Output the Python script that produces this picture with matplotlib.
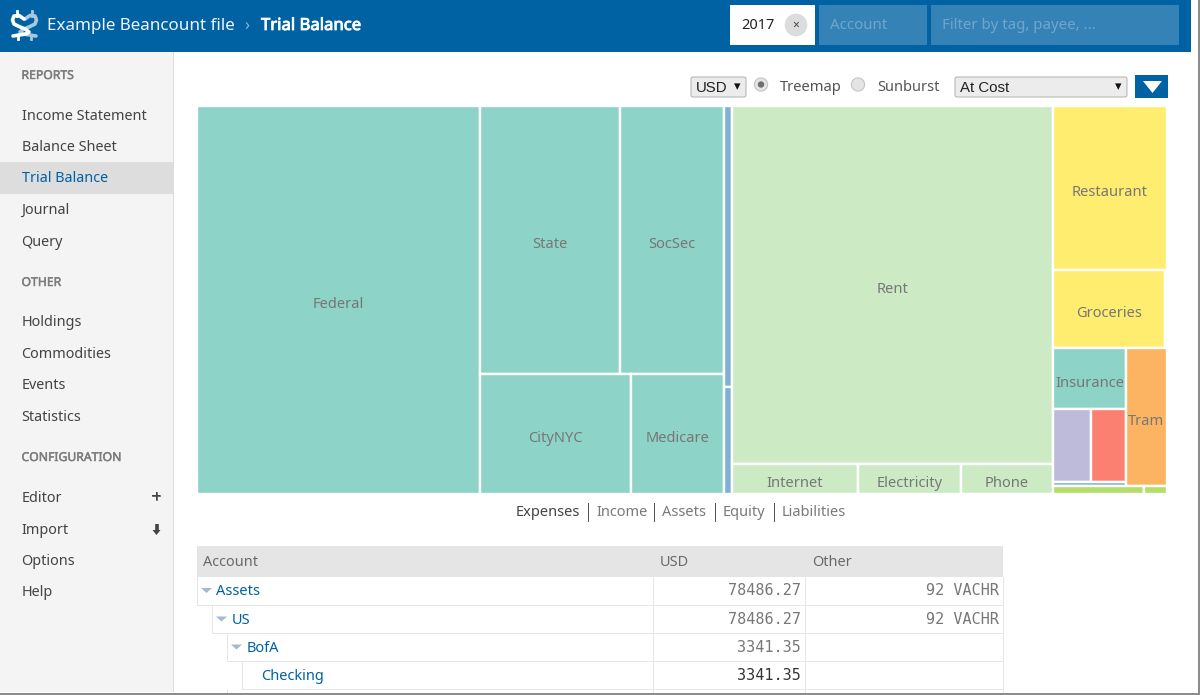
import matplotlib
matplotlib.use("Agg")
import matplotlib.pyplot as plt
import matplotlib.patheffects as pe
from matplotlib.patches import Rectangle, Polygon, Circle, FancyBboxPatch

W, H = 1200, 695
UI_FONT = ["Noto Sans", "DejaVu Sans"]
MONO_FONT = "DejaVu Sans Mono"
FORM_FONT = "Liberation Sans"

# treemap values, USD
tax_main_labels = ["Federal"]
tax_main_values = [27429]
tax_top_labels = ["State", "SocSec"]
tax_top_values = [9362, 6922]
tax_low_labels = ["CityNYC", "Medicare"]
tax_low_values = [4511, 2763]
tax_small_values = [560, 214]
home_labels = ["Rent"]
home_values = [28649]
home_low_labels = ["Internet", "Electricity", "Phone"]
home_low_values = [945, 772, 690]
food_labels = ["Restaurant", "Groceries"]
food_values = [4660, 2184]
grocery_rest_value = 39
tram_value = 1414
insurance_value = 1104
misc_values = [689, 634]
thin_value = 82
bottom_values = [183, 45]

# table values
table_header = ["Account", "USD", "Other"]
accounts = ["Assets", "US", "BofA", "Checking"]
account_depth = [0, 1, 2, 3]
account_usd = ["78486.27", "78486.27", "3341.35", "3341.35"]
account_other = ["92 VACHR", "92 VACHR", "", ""]

nav_reports = ["Income Statement", "Balance Sheet", "Trial Balance", "Journal", "Query"]
nav_other = ["Holdings", "Commodities", "Events", "Statistics"]
nav_config = ["Editor", "Import", "Options", "Help"]
chart_tabs = ["Expenses", "Income", "Assets", "Equity", "Liabilities"]

TEAL = "#8dd3c7"
PALE = "#ccebc5"
YELLOW = "#ffed6f"
ORANGE = "#fdb462"
PURPLE = "#bebada"
RED = "#fb8072"
BLUE = "#80b1d3"
LIME = "#b3de69"
WHITE = "#ffffff"


def leaf(label, value, color):
    return {"label": label, "value": value, "color": color}


def group(direction, *children):
    return {"dir": direction, "children": list(children),
            "value": sum(c["value"] for c in children)}


tree = group(
    "h",
    leaf(tax_main_labels[0], tax_main_values[0], TEAL),
    group("v",
          group("h", leaf(tax_top_labels[0], tax_top_values[0], TEAL),
                leaf(tax_top_labels[1], tax_top_values[1], TEAL)),
          group("h", leaf(tax_low_labels[0], tax_low_values[0], TEAL),
                leaf(tax_low_labels[1], tax_low_values[1], TEAL))),
    group("v", leaf("", tax_small_values[0], BLUE), leaf("", tax_small_values[1], BLUE)),
    group("v",
          leaf(home_labels[0], home_values[0], PALE),
          group("h", *[leaf(l, v, PALE) for l, v in zip(home_low_labels, home_low_values)])),
    group("v",
          leaf(food_labels[0], food_values[0], YELLOW),
          group("h", leaf(food_labels[1], food_values[1], YELLOW),
                leaf("", grocery_rest_value, WHITE)),
          group("h",
                group("v",
                      leaf("Insurance", insurance_value, TEAL),
                      group("h", leaf("", misc_values[0], PURPLE), leaf("", misc_values[1], RED)),
                      leaf("", thin_value, BLUE)),
                leaf("Tram", tram_value, ORANGE)),
          group("h", leaf("", bottom_values[0], LIME), leaf("", bottom_values[1], LIME))),
)


def layout(node, x0, y0, x1, y1, out):
    if "children" not in node:
        out.append((node, x0, y0, x1, y1))
        return
    pos = x0 if node["dir"] == "h" else y0
    span = (x1 - x0) if node["dir"] == "h" else (y1 - y0)
    for c in node["children"]:
        step = span * c["value"] / node["value"]
        if node["dir"] == "h":
            layout(c, pos, y0, pos + step, y1, out)
        else:
            layout(c, x0, pos, x1, pos + step, out)
        pos += step


fig = plt.figure(figsize=(W / 100, H / 100), dpi=100)
ax = fig.add_axes([0, 0, 1, 1])
ax.set_xlim(0, W)
ax.set_ylim(H, 0)
ax.axis("off")


def px(size):
    return size * 0.72


def box(x0, y0, x1, y1, color, z=1, **kw):
    ax.add_patch(Rectangle((x0, y0), x1 - x0, y1 - y0, facecolor=color, edgecolor="none", zorder=z, **kw))


def label(x, y, s, size=14.6, color="#444444", ha="left", family=UI_FONT, heavy=0, **kw):
    t = ax.text(x, y + 2.7, s, fontsize=px(size), color=color, ha=ha, va="center", family=family, zorder=6, **kw)
    if heavy:
        t.set_path_effects([pe.withStroke(linewidth=heavy, foreground=color)])


# window edges
box(1198, 0, 1200, H, "#8c8c8c", 8)
box(0, 692.5, W, H, "#8c8c8c", 8)

# header
HEAD = "#0062a3"
box(0, 0, 1191, 52, HEAD, 2)
label(47, 23.3, "Example Beancount file", size=17, color="#eef4f8")
label(244, 23.5, "›", size=16, color="#8fb8d6")
label(261, 23.3, "Trial Balance", size=16.7, color="#ffffff", heavy=0.6)
box(730, 5, 815, 45, "#ffffff", 3)
label(741, 23, "2017", size=14.5, color="#222222")
ax.add_patch(Circle((796, 25), 11.3, facecolor="#dcdcdc", edgecolor="none", zorder=4))
label(796, 22.5, "×", size=12, color="#444444", ha="center")
box(819, 5, 927, 45, "#3583b6", 3)
label(830, 23, "Account", size=15, color="#70a6cc")
box(931, 5, 1179, 45, "#3583b6", 3)
label(942, 23, "Filter by tag, payee, ...", size=15, color="#70a6cc")

# logo, two mirrored strokes
logo_x = [24, 19, 14, 12.5, 14, 19, 25, 29, 26, 19, 13]
logo_y = [19, 15.5, 16, 20, 24, 26.5, 29, 32, 34, 35, 36]
ax.plot([49 - x for x in logo_x], logo_y, color="#a9c8df", lw=2.6, zorder=4, solid_capstyle="round")
ax.plot(logo_x, logo_y, color="#ffffff", lw=2.6, zorder=5, solid_capstyle="round")
ax.plot([17, 17], [11, 16], color="#ffffff", lw=2, zorder=5)
ax.plot([32, 32], [11, 16], color="#a9c8df", lw=2, zorder=4)
ax.plot([18, 18], [35, 39], color="#ffffff", lw=2, zorder=5)
ax.plot([31, 31], [35, 39], color="#a9c8df", lw=2, zorder=4)

# sidebar
box(0, 52, 173, 692, "#f4f4f4", 1)
box(173, 52, 174, 692, "#dcdcdc", 2)
box(0, 162, 173, 194, "#dddddd", 2)
label(21.5, 72.8, "REPORTS", size=12.2, color="#7d7d7d", heavy=0.35)
label(21.5, 279.8, "OTHER", size=12.2, color="#7d7d7d", heavy=0.35)
label(21.5, 454.8, "CONFIGURATION", size=12.2, color="#7d7d7d", heavy=0.35)
for name, y in zip(nav_reports, [113.5, 144.5, 176, 208, 239.5]):
    label(21.5, y, name, size=14.4, color="#0062a3" if name == "Trial Balance" else "#444444")
for name, y in zip(nav_other, [320, 351.5, 383, 414.5]):
    label(21.5, y, name, size=14.4)
for name, y in zip(nav_config, [495.5, 527.5, 558.5, 590]):
    label(21.5, y, name, size=14.4)
label(156.5, 495, "+", size=17, color="#444444", ha="center", heavy=0.4)
ax.plot([156.5, 156.5], [524, 531], color="#444444", lw=2.6, zorder=6, solid_capstyle="butt")
ax.add_patch(Polygon([[152.5, 530], [160.5, 530], [156.5, 535]], facecolor="#444444", edgecolor="none", zorder=6))

# chart controls
ax.add_patch(FancyBboxPatch((691, 77), 55, 20, boxstyle="round,pad=0,rounding_size=2",
                            facecolor="#ececec", edgecolor="#b0b0b0", lw=0.7, zorder=3))
label(696, 84.8, "USD", size=15, color="#222222", family=FORM_FONT)
label(737, 84, "▾", size=13, color="#111111", ha="center", family="DejaVu Sans")
ax.add_patch(Circle((761, 84.5), 6.6, facecolor="#e4e4e4", edgecolor="#c4c4c4", lw=0.8, zorder=3))
ax.add_patch(Circle((761, 84.5), 3.2, facecolor="#6f6f6f", edgecolor="none", zorder=4))
label(780, 84.5, "Treemap", size=14.8, color="#555555")
ax.add_patch(Circle((858, 84.5), 6.6, facecolor="#e4e4e4", edgecolor="#c4c4c4", lw=0.8, zorder=3))
label(877, 84.5, "Sunburst", size=14.6, color="#555555")
ax.add_patch(FancyBboxPatch((955, 77), 172, 20, boxstyle="round,pad=0,rounding_size=2",
                            facecolor="#ececec", edgecolor="#b0b0b0", lw=0.7, zorder=3))
label(960, 84.8, "At Cost", size=15, color="#222222", family=FORM_FONT)
label(1118, 84, "▾", size=13, color="#111111", ha="center", family="DejaVu Sans")
box(1135, 75, 1168, 98, HEAD, 3)
ax.add_patch(Polygon([[1143, 81], [1162, 81], [1152.5, 93]], facecolor="#ffffff", edgecolor="none", zorder=4))

# treemap
tm = fig.add_axes([196.5 / W, 1 - 494.3 / H, 970.5 / W, 388.3 / H])
tm.set_xlim(0, 1)
tm.set_ylim(1, 0)
tm.axis("off")
tm.patch.set_alpha(0)
cells = []
layout(tree, 0, 0, 1, 1, cells)
for node, x0, y0, x1, y1 in cells:
    tm.add_patch(Rectangle((x0, y0), x1 - x0, y1 - y0, facecolor=node["color"],
                           edgecolor="white", lw=1.7))
    if node["label"]:
        tm.annotate(node["label"], ((x0 + x1) / 2, (y0 + y1) / 2), xytext=(0, -3.2),
                    textcoords="offset points", ha="center", va="center",
                    fontsize=px(14.7), color="#777777", family=UI_FONT)

# chart tabs
for name, x in zip(chart_tabs, [516, 596, 662, 723, 782]):
    label(x, 510.3, name, size=14.6, color="#444444" if name == "Expenses" else "#7a7a7a")
for x in [587.5, 654, 714.5, 773.5]:
    box(x, 503, x + 1, 522, "#555555", 3)

# table
box(197, 546, 1003, 577, "#e5e5e5", 2)
for name, x in zip(table_header, [203, 660, 812]):
    label(x, 559.5, name, size=14.5, color="#6a6a6a")
rows_y = [589, 617.5, 645.5, 673.5]
rows_bottom = [605, 633, 661, 689]
LINE = "#e6e6e6"
for name, depth, usd, other, y, bottom in zip(accounts, account_depth, account_usd, account_other, rows_y, rows_bottom):
    left = 197 + 15 * depth
    box(left, bottom, 1004, bottom + 1, LINE, 3)
    box(left, bottom - 28, left + 1, bottom + 1, LINE, 3)
    tx = left + 19.5 if depth < 3 else left + 19
    label(tx, y, name, size=14.6, color="#0062a3")
    if depth < 3:
        ax.add_patch(Polygon([[left + 4, y - 1], [left + 15, y - 1], [left + 9.5, y + 4]],
                             facecolor="#a4b9cc", edgecolor="none", zorder=4))
    label(801, y - 1, usd, size=15.1, color="#333333" if depth == 3 else "#777777", ha="right", family=MONO_FONT)
    label(999, y - 1, other, size=15.1, color="#777777", ha="right", family=MONO_FONT)
box(227, 689, 228, 693, LINE, 3)
for x in [653, 805, 1003]:
    box(x, 577, x + 1, 693, LINE, 3)

fig.savefig("out.png", dpi=100)
